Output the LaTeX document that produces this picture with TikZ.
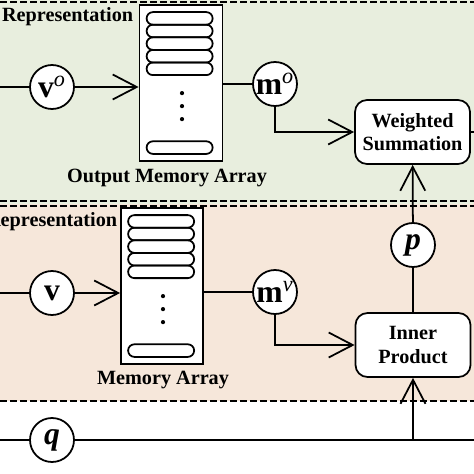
\documentclass[tikz,border=0pt]{standalone}
\usepackage{fontspec}
\setmainfont{Liberation Serif}
\usetikzlibrary{positioning,arrows.meta,calc}
\definecolor{outgreen}{HTML}{E8EEDE}
\definecolor{inpeach}{HTML}{F6E7DA}
\tikzset{
  var/.style={draw,circle,fill=white,line width=1pt,minimum size=8.8mm,inner sep=0pt,font=\fontsize{18}{18}\selectfont\bfseries},
  mem/.style={draw,fill=white,line width=1pt,minimum width=16.6mm,minimum height=31.2mm},
  slot/.style={draw,line width=1pt,rounded corners=1.25mm},
  op/.style={draw,rounded corners=2.4mm,fill=white,line width=1pt,align=center,minimum width=23mm,minimum height=12.8mm,font=\fontsize{11.5}{13.5}\selectfont\bfseries},
  lbl/.style={font=\fontsize{11.5}{13.5}\selectfont\bfseries,inner sep=0pt},
  sep/.style={dash pattern=on 1.4mm off 0.6mm,line width=1.1pt},
  arr/.style={-{Straight Barb[length=4.8mm,width=5mm]},line width=1pt},
}

\begin{document}
\begin{tikzpicture}[x=0.2mm,y=-0.2mm,line width=1pt]
\useasboundingbox (0,0) rectangle (474,474);
\clip (0,0) rectangle (474,474);
% background bands
\fill[outgreen] (0,0) rectangle (474,203.5);
\fill[inpeach] (0,203.5) rectangle (474,401);
\draw[sep] (0,2) -- (474,2);
\draw[sep] (0,201) -- (474,201);
\draw[sep] (0,206) -- (474,206);
\draw[sep] (0,401) -- (474,401);

% memory arrays
\node[mem] (omem) at (181,83) {};
\node[mem,minimum width=16.4mm] (imem) at (162,286) {};
\foreach \m in {omem,imem}{
  \foreach \i in {0,...,4}
    \draw[slot] ($(\m.north west)+(8,8+12.6*\i)$) rectangle ++(66,12.6);
  \draw[slot] ($(\m.south west)+(8,-20.6)$) rectangle ++(66,12.6);
  \foreach \d in {89,102,115}
    \fill ($(\m.north)+(1,\d)$) circle (1.2pt);
}
\node[lbl,anchor=east] (oname) at (134,17) {Representation};
\node[lbl,anchor=east] (iname) at (118,222) {Representation};
\node[lbl] (omname) at (167,178) {Output Memory Array};
\node[lbl] (imname) at (163,380) {Memory Array};

% variables and operations
\node[var] (vo) at (52,87) {v\textsuperscript{\mdseries\itshape o}};
\node[var] (mo) at (275,84) {m\textsuperscript{\mdseries\itshape o}};
\node[op] (ws) at (412.5,132) {Weighted\\Summation};
\node[var] (v) at (52,293) {v};
\node[var] (mv) at (275,292) {m\textsuperscript{\mdseries\itshape v}};
\node[var] (p) at (413,245) {\itshape p};
\node[op] (ip) at (413,345) {Inner\\Product};
\node[var] (q) at (52,440) {\itshape q};

\coordinate (voin) at (0,87);
\coordinate (vin) at (0,293);
\coordinate (qin) at (0,440);
\coordinate (qout) at (474,440);
\coordinate (wsout) at (474,132);
\coordinate (qjoin) at (q -| ip.south);

% connectors
\draw (voin) -- (vo);
\draw[arr] (vo) -- (vo -| omem.west);
\draw (mo -| omem.east) -- (mo);
\draw[arr] (mo) |- (ws.west);
\draw (ws) -- (wsout);
\draw (vin) -- (v);
\draw[arr] (v) -- (v -| imem.west);
\draw (mv -| imem.east) -- (mv);
\draw[arr] (mv) |- (ip.west);
\draw (ip) -- (p);
\draw[arr] (p) -- (ws);
\draw (qin) -- (q) -- (qout);
\draw[arr] (qjoin) -- (ip.south);
\end{tikzpicture}
\end{document}
